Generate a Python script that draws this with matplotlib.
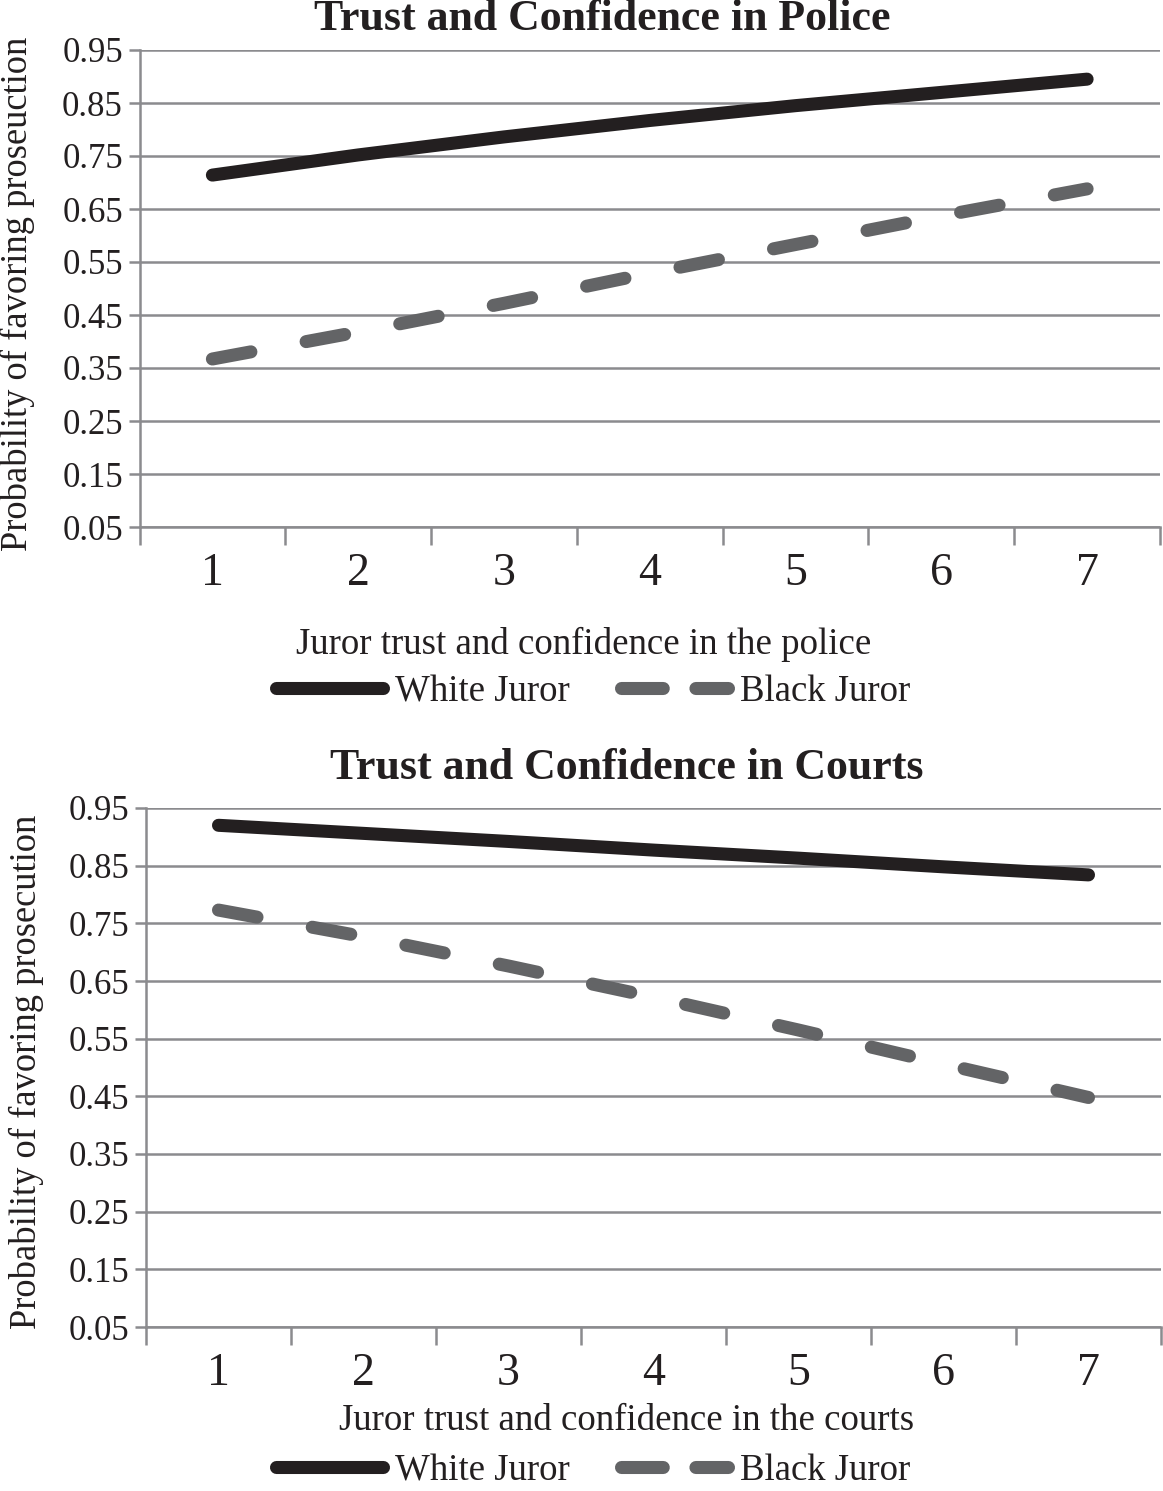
import matplotlib
matplotlib.use("Agg")
import matplotlib.pyplot as plt
from matplotlib.lines import Line2D

# data
levels = [1, 2, 3, 4, 5, 6, 7]
police_white = [0.714, 0.752, 0.786, 0.817, 0.845, 0.870, 0.895]
police_black = [0.367, 0.418, 0.472, 0.529, 0.583, 0.637, 0.688]
courts_white = [0.920, 0.906, 0.892, 0.877, 0.863, 0.848, 0.834]
courts_black = [0.773, 0.727, 0.676, 0.622, 0.565, 0.506, 0.448]
yticks = [0.05, 0.15, 0.25, 0.35, 0.45, 0.55, 0.65, 0.75, 0.85, 0.95]
series_names = ["White Juror", "Black Juror"]

plt.rcParams["font.family"] = ["Liberation Serif", "DejaVu Serif"]
ink = "#231f20"
grey_line = "#636466"
grid_col = "#8b8b8e"
lw = 9.4

W, H = 1163, 1491
fig = plt.figure(figsize=(W / 100, H / 100), dpi=100)


def fx(px):
    return px / W


def fy(py):
    return 1 - py / H


def panel(rect, white, black, title, title_xy, xlabel, xlabel_xy,
          ylabel, ylabel_xy, legend_xy):
    ax = fig.add_axes(rect)
    ax.set_xlim(0.5, 7.5)
    ax.set_ylim(0.05, 0.95)
    ax.set_yticks(yticks)
    ax.set_yticklabels(["%.2f" % v for v in yticks])
    ax.yaxis.grid(True, color=grid_col, lw=1.8)
    ax.set_axisbelow(True)
    for s in ["top", "right"]:
        ax.spines[s].set_visible(False)
    for s in ["left", "bottom"]:
        ax.spines[s].set_color(grid_col)
        ax.spines[s].set_linewidth(1.8)
    ax.set_xticks(levels)
    ax.set_xticks([l + 0.5 for l in [0] + levels], minor=True)
    ax.tick_params(axis="x", which="major", length=0, pad=18.5,
                   labelsize=33, colors=ink)
    ax.tick_params(axis="x", which="minor", length=13, width=1.8,
                   color=grid_col)
    ax.tick_params(axis="y", length=8, width=1.8, color=grid_col,
                   pad=4, labelsize=25, labelcolor=ink)

    ax.plot(levels, white, color=ink, lw=lw, solid_capstyle="round",
            solid_joinstyle="round", zorder=3)
    ax.plot(levels, black, color=grey_line, lw=lw, dashes=(3.0, 4.3),
            dash_capstyle="round", zorder=3)

    fig.text(fx(title_xy[0]), fy(title_xy[1]), title, ha="center",
             va="baseline", fontsize=31.6, fontweight="bold", color=ink)
    fig.text(fx(xlabel_xy[0]), fy(xlabel_xy[1]), xlabel, ha="center",
             va="baseline", fontsize=26.6, color=ink)
    fig.text(fx(ylabel_xy[0]), fy(ylabel_xy[1]), ylabel, ha="center",
             va="center", rotation=90, fontsize=26.3, color=ink)

    handles = [
        Line2D([], [], color=ink, lw=lw, solid_capstyle="round"),
        Line2D([], [], color=grey_line, lw=lw, dashes=(3.2, 2.5),
               dash_capstyle="round"),
    ]
    fig.legend(handles, series_names, loc="center",
               bbox_to_anchor=(fx(legend_xy[0]), fy(legend_xy[1])),
               ncol=2, frameon=False, fontsize=26.5, handlelength=2.9,
               handletextpad=0.32, columnspacing=1.4, borderpad=0,
               borderaxespad=0, labelcolor=ink)
    return ax


panel([fx(139.5), fy(527), fx(1160) - fx(139.5), fy(50) - fy(527)],
      police_white, police_black,
      "Trust and Confidence in Police", (602, 30),
      "Juror trust and confidence in the police", (584, 654),
      "Probability of favoring proseuction", (17.5, 294),
      (593, 692))

panel([fx(146), fy(1327), fx(1161) - fx(146), fy(808) - fy(1327)],
      courts_white, courts_black,
      "Trust and Confidence in Courts", (627, 779),
      "Juror trust and confidence in the courts", (627, 1430),
      "Probability of favoring prosecution", (26.5, 1072),
      (593, 1471))

fig.savefig("out.png", dpi=100)
